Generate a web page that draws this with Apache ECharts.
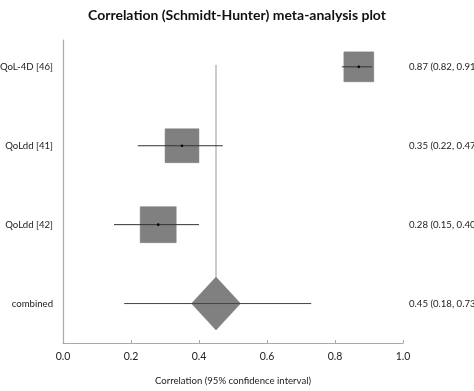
<!DOCTYPE html>
<html><head><meta charset="utf-8">
<script src="https://cdn.jsdelivr.net/npm/echarts@6/dist/echarts.min.js"></script>
<style>html,body{margin:0;padding:0;background:#fff}#c{width:474px;height:391px}</style>
</head><body><div id="c"></div>
<script>
const studies = ['AQoL-4D [46]', 'QoLdd [41]', 'QoLdd [42]'];
const estimates = [0.87, 0.35, 0.28];
const lower = [0.82, 0.22, 0.15];
const upper = [0.91, 0.47, 0.40];
const weights = [0.83, 0.94, 1.0];
const combinedLabel = 'combined';
const combined = [0.45, 0.18, 0.73];
const xTicks = [0, 0.2, 0.4, 0.6, 0.8, 1.0];

const fmt = v => v.toFixed(2);
const rows = studies.map((s, i) => ({value: [estimates[i], studies.length - i, lower[i], upper[i], weights[i]], name: s}));
const FONT = 'Lato, "Noto Sans", sans-serif';
const LBL = 9.6;

const chart = echarts.init(document.getElementById('c'));
chart.setOption({
  animation: false,
  title: {text: 'Correlation (Schmidt-Hunter) meta-analysis plot', left: 'center', top: 3,
    textStyle: {fontSize: 14, fontWeight: 'bold', color: '#111', fontFamily: FONT}},
  grid: {left: 63, right: 71, top: 40, bottom: 45},
  xAxis: {type: 'value', min: 0, max: 1, interval: 0.2,
    name: 'Correlation (95% confidence interval)', nameLocation: 'middle', nameGap: 33,
    nameTextStyle: {fontSize: 9.6, color: '#222', fontFamily: FONT},
    axisLine: {show: true, onZero: false, lineStyle: {color: '#aaa', width: 1.2}},
    axisTick: {show: true, inside: true, length: 3, lineStyle: {color: '#aaa'}},
    axisLabel: {fontSize: 10.5, color: '#222', fontFamily: FONT, margin: 8, formatter: v => v.toFixed(1)},
    splitLine: {show: false}},
  yAxis: {type: 'value', min: -0.5, max: 3.34,
    axisLine: {show: true, onZero: false, lineStyle: {color: '#aaa', width: 1.2}},
    axisTick: {show: false}, axisLabel: {show: false}, splitLine: {show: false}},
  series: [
    {type: 'custom', data: rows, clip: false,
      renderItem: (params, api) => {
        const est = api.value(0), y = api.value(1), lo = api.value(2), hi = api.value(3), w = api.value(4);
        const c = api.coord([est, y]);
        const pl = api.coord([lo, y]), ph = api.coord([hi, y]);
        const x0 = api.coord([0, y]);
        const xr = api.coord([1, y]);
        const s = 36 * w;
        const i = params.dataIndex;
        return {type: 'group', children: [
          {type: 'rect', shape: {x: c[0] - s / 2, y: c[1] - s / 2, width: s, height: s},
            style: {fill: '#808080', stroke: '#777', lineWidth: 0.5}},
          {type: 'line', shape: {x1: pl[0], y1: pl[1], x2: ph[0], y2: ph[1]}, style: {stroke: '#333', lineWidth: 1}},
          {type: 'circle', shape: {cx: c[0], cy: c[1], r: 1.3}, style: {fill: '#000'}},
          {type: 'text', x: x0[0] - 10, y: c[1], style: {text: studies[i], align: 'right', verticalAlign: 'middle',
            fontSize: LBL, fill: '#222', fontFamily: FONT}},
          {type: 'text', x: xr[0] + 6, y: c[1], style: {text: fmt(estimates[i]) + ' (' + fmt(lower[i]) + ', ' + fmt(upper[i]) + ')',
            align: 'left', verticalAlign: 'middle', fontSize: LBL, fill: '#222', fontFamily: FONT}}
        ]};
      }},
    {type: 'custom', data: [{value: [combined[0], 0, combined[1], combined[2]]}], clip: false, z: 1,
      renderItem: (params, api) => {
        const est = api.value(0), lo = api.value(2), hi = api.value(3);
        const c = api.coord([est, 0]);
        const top = api.coord([est, studies.length]);
        const pl = api.coord([lo, 0]), ph = api.coord([hi, 0]);
        const x0 = api.coord([0, 0]), xr = api.coord([1, 0]);
        const hw = 24.5, hh = 26.5;
        return {type: 'group', children: [
          {type: 'line', shape: {x1: c[0], y1: top[1] - 2, x2: c[0], y2: c[1] - hh}, style: {stroke: '#999', lineWidth: 1}},
          {type: 'polygon', shape: {points: [[c[0], c[1] - hh], [c[0] + hw, c[1]], [c[0], c[1] + hh], [c[0] - hw, c[1]]]},
            style: {fill: '#808080', stroke: '#777', lineWidth: 0.5}},
          {type: 'line', shape: {x1: pl[0], y1: pl[1], x2: ph[0], y2: ph[1]}, style: {stroke: '#444', lineWidth: 1}},
          {type: 'text', x: x0[0] - 10, y: c[1], style: {text: combinedLabel, align: 'right', verticalAlign: 'middle',
            fontSize: LBL, fill: '#222', fontFamily: FONT}},
          {type: 'text', x: xr[0] + 6, y: c[1], style: {text: fmt(combined[0]) + ' (' + fmt(combined[1]) + ', ' + fmt(combined[2]) + ')',
            align: 'left', verticalAlign: 'middle', fontSize: LBL, fill: '#222', fontFamily: FONT}}
        ]};
      }}
  ]
});
</script></body></html>
